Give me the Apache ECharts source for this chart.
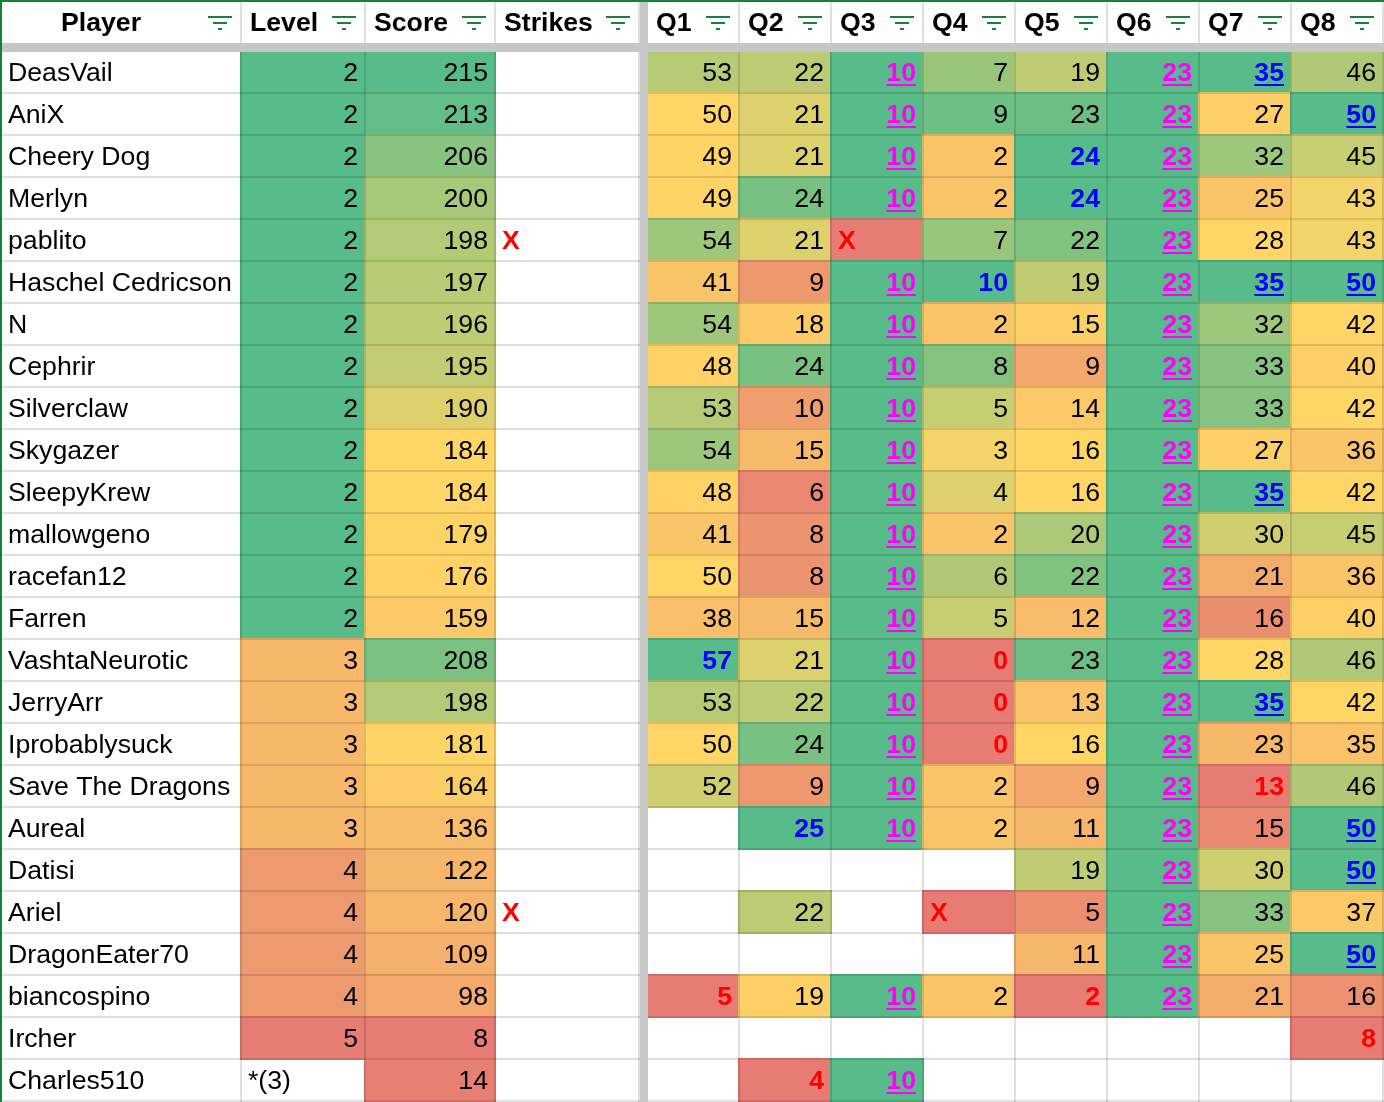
<!DOCTYPE html>
<html>
<head>
    <meta charset="UTF-8">
    <title>Players</title>
    <script src="https://cdn.jsdelivr.net/npm/echarts@6/dist/echarts.min.js"></script>
    <style>
        html, body {margin: 0; padding: 0; background: #fff;}
        #sheet {width: 1384px; height: 1102px;}
    </style>
</head>
<body>
<div id="sheet"></div>
<script>
    // sheet values
    var headers = ['Player', 'Level', 'Score', 'Strikes', 'Q1', 'Q2', 'Q3', 'Q4', 'Q5', 'Q6', 'Q7', 'Q8'];
    var players = ['DeasVail', 'AniX', 'Cheery Dog', 'Merlyn', 'pablito', 'Haschel Cedricson', 'N', 'Cephrir', 'Silverclaw', 'Skygazer', 'SleepyKrew', 'mallowgeno', 'racefan12', 'Farren', 'VashtaNeurotic', 'JerryArr', 'Iprobablysuck', 'Save The Dragons', 'Aureal', 'Datisi', 'Ariel', 'DragonEater70', 'biancospino', 'Ircher', 'Charles510'];
    var level = [2, 2, 2, 2, 2, 2, 2, 2, 2, 2, 2, 2, 2, 2, 3, 3, 3, 3, 3, 4, 4, 4, 4, 5, '*(3)'];
    var score = [215, 213, 206, 200, 198, 197, 196, 195, 190, 184, 184, 179, 176, 159, 208, 198, 181, 164, 136, 122, 120, 109, 98, 8, 14];
    var strikes = [null, null, null, null, 'X', null, null, null, null, null, null, null, null, null, null, null, null, null, null, null, 'X', null, null, null, null];
    var q1 = [53, 50, 49, 49, 54, 41, 54, 48, 53, 54, 48, 41, 50, 38, 57, 53, 50, 52, null, null, null, null, 5, null, null];
    var q2 = [22, 21, 21, 24, 21, 9, 18, 24, 10, 15, 6, 8, 8, 15, 21, 22, 24, 9, 25, null, 22, null, 19, null, 4];
    var q3 = [10, 10, 10, 10, 'X', 10, 10, 10, 10, 10, 10, 10, 10, 10, 10, 10, 10, 10, 10, null, null, null, 10, null, 10];
    var q4 = [7, 9, 2, 2, 7, 10, 2, 8, 5, 3, 4, 2, 6, 5, 0, 0, 0, 2, 2, null, 'X', null, 2, null, null];
    var q5 = [19, 23, 24, 24, 22, 19, 15, 9, 14, 16, 16, 20, 22, 12, 23, 13, 16, 9, 11, 19, 5, 11, 2, null, null];
    var q6 = [23, 23, 23, 23, 23, 23, 23, 23, 23, 23, 23, 23, 23, 23, 23, 23, 23, 23, 23, 23, 23, 23, 23, null, null];
    var q7 = [35, 27, 32, 25, 28, 35, 32, 33, 33, 27, 35, 30, 21, 16, 28, 35, 23, 13, 15, 30, 33, 25, 21, null, null];
    var q8 = [46, 50, 45, 43, 43, 50, 42, 40, 42, 36, 42, 45, 36, 40, 46, 42, 35, 46, 50, 50, 37, 50, 16, 8, null];

    var columns = [players, level, score, strikes, q1, q2, q3, q4, q5, q6, q7, q8];

    // layout of the sheet, the axes run 1:1 with the page
    var colRight = [242, 366, 496, 640, 740, 832, 924, 1016, 1108, 1200, 1292, 1384];
    var colLeft = [2, 242, 366, 496, 648, 740, 832, 924, 1016, 1108, 1200, 1292];
    var headerBottom = 43, firstRowTop = 52, rowHeight = 42;
    var font = '26.67px "Liberation Sans", Arial, sans-serif';
    var fontBold = 'bold ' + font;

    var GREEN = [87, 187, 138], YELLOW = [255, 214, 102], RED = [230, 124, 115];
    var FILTER = '#188038', FREEZE = '#c7c7c7', LINE = 'rgba(0,0,0,0.12)';

    function numbers(arr) {
        return arr.filter(function (v) { return typeof v === 'number'; }).sort(function (a, b) { return a - b; });
    }
    function median(sorted) {
        var n = sorted.length;
        return n % 2 ? sorted[(n - 1) / 2] : (sorted[n / 2 - 1] + sorted[n / 2]) / 2;
    }
    function mix(a, b, t) {
        return 'rgb(' + [0, 1, 2].map(function (i) { return Math.round(a[i] + (b[i] - a[i]) * t); }).join(',') + ')';
    }
    // same 3 point colour scale per column as the sheet: min / median / max
    function cellColor(col, v) {
        if (v === 'X') return mix(RED, RED, 0);
        var s = numbers(columns[col]);
        var lo = s[0], hi = s[s.length - 1], mid = median(s);
        var loC = col === 1 ? GREEN : RED, hiC = col === 1 ? RED : GREEN;
        if (lo === hi) return mix(GREEN, GREEN, 0);
        if (v <= lo) return mix(loC, loC, 0);
        if (v < mid) return mix(loC, YELLOW, (v - lo) / (mid - lo));
        return mix(YELLOW, hiC, (v - mid) / (hi - mid));
    }

    var cells = [];
    columns.forEach(function (values, c) {
        values.forEach(function (v, r) {
            if (v !== null) cells.push({col: c, row: r, value: v});
        });
    });
    var fills = cells.filter(function (d) { return d.col > 0 && d.col !== 3 && d.value !== '*(3)'; });

    var measure = document.createElement('canvas').getContext('2d');
    function textWidth(text, f) {
        measure.font = f;
        return measure.measureText(text).width;
    }

    function rect(api, x0, y0, x1, y1, fill) {
        var a = api.coord([x0, y0]), b = api.coord([x1, y1]);
        return {type: 'rect', shape: {x: a[0], y: a[1], width: b[0] - a[0], height: b[1] - a[1]}, style: {fill: fill}};
    }
    function label(api, text, x, y, align, f, color) {
        var p = api.coord([x, y]);
        return {type: 'text', style: {text: String(text), x: p[0], y: p[1], align: align, verticalAlign: 'middle', font: f, fill: color}};
    }

    function renderFill(params, api) {
        var d = fills[params.dataIndex];
        var top = firstRowTop + d.row * rowHeight;
        return rect(api, colLeft[d.col] - (d.col === 4 ? 0 : 2), top - 2, colRight[d.col], top + rowHeight, cellColor(d.col, d.value));
    }

    function renderCellText(params, api) {
        var d = cells[params.dataIndex];
        var v = d.value;
        var mid = firstRowTop + d.row * rowHeight + 22;
        if (typeof v === 'string') {
            return label(api, v, colLeft[d.col] + 6, mid, 'left', v === 'X' ? fontBold : font, v === 'X' ? '#ff0000' : '#000');
        }
        var right = colRight[d.col] - 8;
        var s = numbers(columns[d.col]);
        var lo = s[0], hi = s[s.length - 1];
        var isQ = d.col >= 4;
        var color = '#000', f = font, underline = false;
        if (isQ && lo === hi) { color = '#ff00ff'; f = fontBold; underline = true; }
        else if (isQ && v === hi) { color = '#0000ff'; f = fontBold; underline = d.col >= 10; }
        else if (isQ && v === lo) { color = '#ff0000'; f = fontBold; }
        var children = [label(api, v, right, mid, 'right', f, color)];
        if (underline) {
            children.push(rect(api, right - textWidth(String(v), f), mid + 10, right, mid + 12, color));
        }
        return {type: 'group', children: children};
    }

    function renderHeader(params, api) {
        var c = params.dataIndex;
        var children = [];
        if (c === 0) {
            children.push(label(api, headers[c], 101, 24, 'center', fontBold, '#000'));
        } else {
            children.push(label(api, headers[c], colLeft[c] + 8, 24, 'left', fontBold, '#000'));
        }
        // filter icon
        var r = colRight[c] - 10;
        children.push(rect(api, r - 24, 16, r, 18, FILTER));
        children.push(rect(api, r - 19, 22, r - 5, 24, FILTER));
        children.push(rect(api, r - 14, 28, r - 10, 30, FILTER));
        return {type: 'group', children: children};
    }

    function renderLines(params, api) {
        var children = [];
        colRight.forEach(function (x) {
            children.push(rect(api, x - 2, 2, x, headerBottom, LINE));
            children.push(rect(api, x - 2, firstRowTop, x, 1102, LINE));
        });
        players.forEach(function (p, r) {
            var b = firstRowTop + (r + 1) * rowHeight;
            children.push(rect(api, 2, b - 2, 640, b, LINE));
            children.push(rect(api, 648, b - 2, 1384, b, LINE));
        });
        return {type: 'group', children: children};
    }

    function renderFrame(params, api) {
        return {type: 'group', children: [
            rect(api, 2, headerBottom, 1384, firstRowTop, FREEZE),
            rect(api, 640, 2, 648, 1102, FREEZE),
            rect(api, 0, 0, 1384, 2, FILTER),
            rect(api, 0, 0, 2, 1102, FILTER)
        ]};
    }

    var myChart = echarts.init(document.getElementById('sheet'), null, {renderer: 'canvas'});
    var option = {
        animation: false,
        backgroundColor: '#fff',
        grid: {left: 0, right: 0, top: 0, bottom: 0},
        xAxis: {type: 'value', min: 0, max: 1384, show: false},
        yAxis: {type: 'value', min: 0, max: 1102, inverse: true, show: false},
        series: [
            {type: 'custom', renderItem: renderFill, clip: false, silent: true, data: fills.map(function (d) { return [d.col, d.row]; })},
            {type: 'custom', renderItem: renderLines, clip: false, silent: true, data: [[0, 0]]},
            {type: 'custom', renderItem: renderFrame, clip: false, silent: true, data: [[0, 0]]},
            {type: 'custom', renderItem: renderHeader, clip: false, silent: true, data: headers.map(function (h, i) { return [i, 0]; })},
            {type: 'custom', renderItem: renderCellText, clip: false, silent: true, data: cells.map(function (d) { return [d.col, d.row]; })}
        ]
    };
    myChart.setOption(option);
</script>
</body>
</html>
